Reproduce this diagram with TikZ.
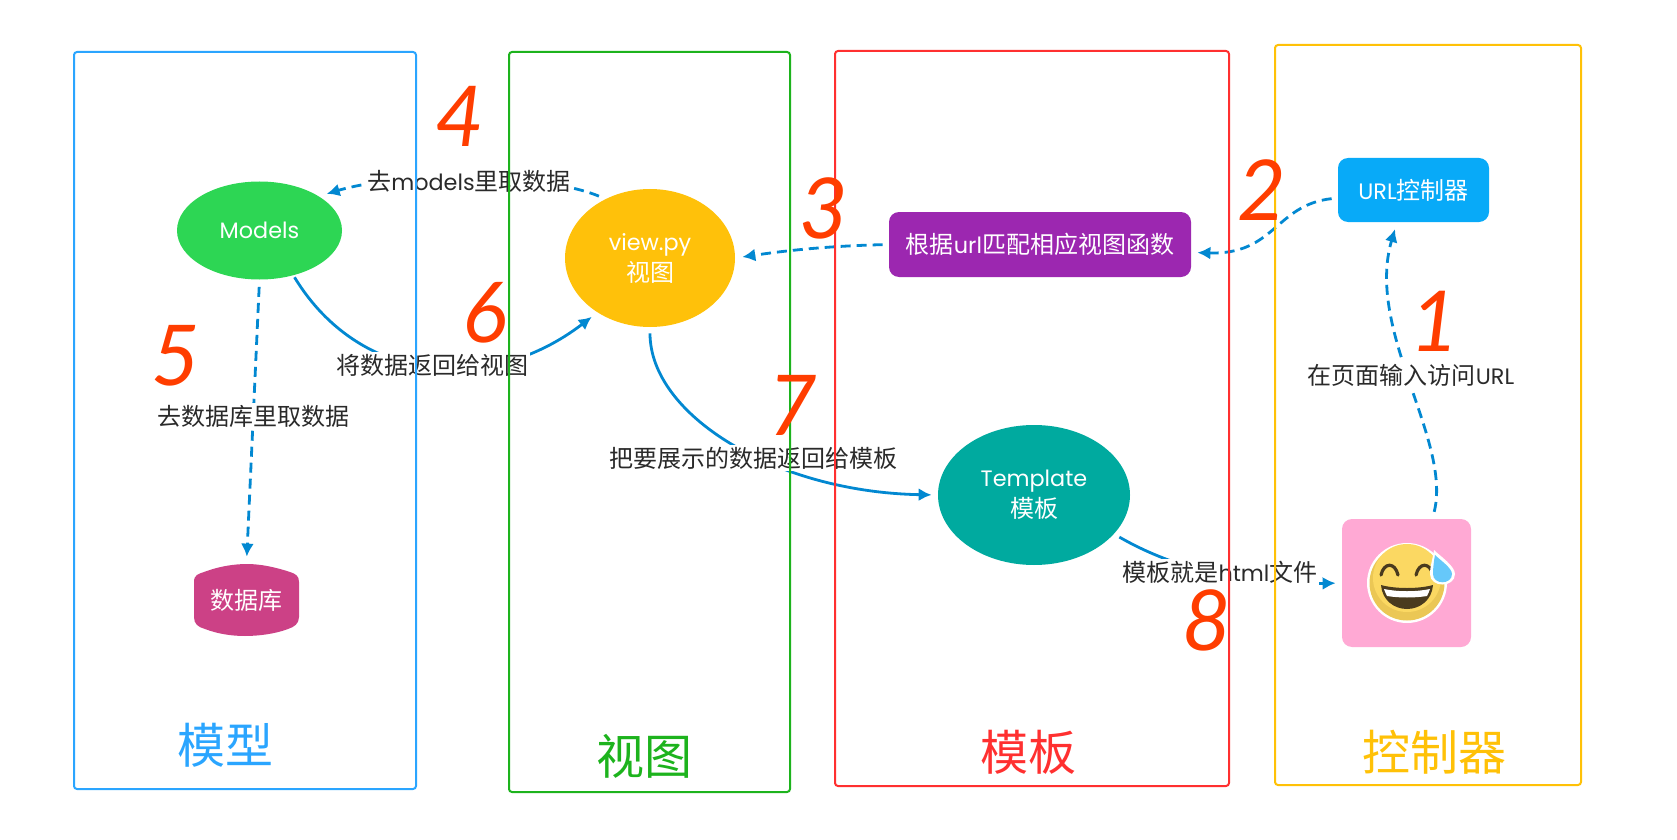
\documentclass[tikz,border=0pt]{standalone}
\usepackage{fontspec}
\setmainfont{Noto Sans CJK SC}
\newfontfamily\latfont[Scale=0.93]{Poppins}
\newfontfamily\handfont{Lato}
\newcommand{\lat}[1]{{\latfont #1}}
\usetikzlibrary{arrows.meta}
\usetikzlibrary{shapes.geometric}

\definecolor{flowblue}{HTML}{0288D1}
\definecolor{labelgray}{HTML}{2A2A2A}
\definecolor{handred}{HTML}{FF3D00}
\definecolor{modelblue}{HTML}{2AA5FF}
\definecolor{viewgreen}{HTML}{1DB31D}
\definecolor{tplred}{HTML}{FF3030}
\definecolor{ctlyellow}{HTML}{FFC107}
\definecolor{modelsfill}{HTML}{2DD654}
\definecolor{viewfill}{HTML}{FFC10A}
\definecolor{tplfill}{HTML}{00AA9F}
\definecolor{matchfill}{HTML}{9C27B0}
\definecolor{urlfill}{HTML}{08AAF8}
\definecolor{dbfill}{HTML}{CC4186}
\definecolor{pinkfill}{HTML}{FFA9D4}
\definecolor{facefill}{HTML}{FBD862}
\definecolor{faceshade}{HTML}{EBC755}
\definecolor{facedark}{HTML}{4A3B1E}
\definecolor{dropfill}{HTML}{66C8FA}

\tikzset{
  every node/.style={font=\fontsize{12}{15.5}\selectfont},
  panel/.style={draw=#1, line width=1pt, rounded corners=1.5pt, inner sep=0pt},
  panellabel/.style={text=#1, font=\fontsize{24}{28}\selectfont, inner sep=0pt},
  oval/.style={ellipse, fill=#1, text=white, align=center, inner sep=0pt},
  box/.style={rectangle, rounded corners=5pt, fill=#1, text=white, align=center, inner sep=0pt},
  flow/.style={draw=flowblue, line width=1.4pt, -{Latex[length=6.5pt,width=6.5pt]}},
  dashflow/.style={flow, dash pattern=on 5pt off 3pt},
  edgelabel/.style={fill=white, text=labelgray, inner sep=1pt},
  hand/.style={text=handred, inner sep=0pt, font=\fontsize{42}{42}\selectfont\handfont\itshape},
}

\begin{document}
\begin{tikzpicture}[x=0.5pt, y=-0.5pt]

\useasboundingbox (0,0) rectangle (1677,840);

\node [oval=modelsfill, minimum width=82.5pt, minimum height=49pt] (models) at (259.5,230.5) {\lat{Models}};
\node [oval=viewfill, minimum width=85pt, minimum height=69pt] (view) at (650,258) {\lat{view.py}\\视图};
\node [oval=tplfill, minimum width=96pt, minimum height=70pt] (template) at (1034,495) {\lat{Template}\\模板};

\node [box=matchfill, minimum width=151pt, minimum height=32.5pt] (match) at (1040,244.5) {根据\lat{url}匹配相应视图函数};
\node [box=urlfill, minimum width=75.5pt, minimum height=32pt] (url) at (1413.5,190) {\lat{URL}控制器};
\node [box=pinkfill, minimum width=64.5pt, minimum height=64pt] (user) at (1406.5,583) {};

\fill[dbfill] (194,582) .. controls (194,575) and (198,574) .. (204,572)
  .. controls (220,566) and (235,564) .. (247,564)
  .. controls (260,564) and (275,567) .. (290,572)
  .. controls (296,574) and (299,576) .. (299,582) -- (299,617)
  .. controls (299,624) and (294,627) .. (288,629)
  .. controls (275,634) and (258,636) .. (245,636)
  .. controls (232,636) and (218,634) .. (205,629)
  .. controls (198,627) and (194,624) .. (194,617) -- cycle;
\node [text=white, inner sep=0pt, minimum width=52.5pt, minimum height=36pt] (db) at (246.5,600) {数据库};

\fill[white] (1407,583) circle (40);
\fill[faceshade] (1407,583) circle (37.5);
\fill[facefill] (1407,578) circle (34);
\draw[facedark, line width=1.6pt, line cap=round] (1381,575) .. controls (1384,562) and (1395,562) .. (1398,575);
\draw[facedark, line width=1.6pt, line cap=round] (1416,575) .. controls (1419,562) and (1430,562) .. (1433,575);
\fill[facedark] (1381,585) .. controls (1395,589) and (1419,589) .. (1433,585)
  .. controls (1432,600) and (1420,609) .. (1407,609) .. controls (1394,609) and (1382,600) .. (1381,585) -- cycle;
\fill[white] (1384,589) .. controls (1398,592) and (1416,592) .. (1430,589)
  .. controls (1429,592) and (1428,594) .. (1427,596) .. controls (1415,598) and (1399,598) .. (1387,596) .. controls (1386,594) and (1385,592) .. (1384,589) -- cycle;
\fill[white] (1434,550) .. controls (1440,556) and (1455,566) .. (1455,574) .. controls (1455,588) and (1430,588) .. (1430,574) .. controls (1430,566) and (1433,558) .. (1434,550) -- cycle;
\fill[dropfill] (1435,555) .. controls (1440,560) and (1452,568) .. (1452,574) .. controls (1452,585) and (1433,585) .. (1433,574) .. controls (1433,568) and (1434,560) .. (1435,555) -- cycle;

\draw[dashflow, shorten <=3.5pt, shorten >=3.5pt] (user.68) .. controls (1452,440) and (1365,330) .. (url.243);
\draw[dashflow, shorten <=3pt, shorten >=3pt] (url.186) .. controls (1275,205) and (1275,255) .. (match.-3);
\draw[dashflow, shorten <=3pt, shorten >=3.5pt] (match.180) .. controls (830,246) and (790,250) .. (view.east);
\draw[dashflow, shorten <=3.5pt, shorten >=4pt] (view.127) .. controls (540,172) and (400,172) .. (models.30);
\draw[dashflow, shorten <=3.5pt, shorten >=3.5pt] (models.south) -- (db.north);
\draw[flow, shorten <=1pt, shorten >=3.5pt] (models.-53) .. controls (360,385) and (490,395) .. (view.-134);
\draw[flow, shorten <=3pt, shorten >=3pt] (view.south) .. controls (650,415) and (775,492) .. (template.west);
\draw[flow, shorten <=3pt, shorten >=3pt] (template.-26) .. controls (1180,572) and (1250,585) .. (user.west);

\node [edgelabel] (lb_1) at (1411,375) {在页面输入访问\lat{URL}};
\node [edgelabel] (lb_4) at (469,181) {去\lat{models}里取数据};
\node [edgelabel] (lb_5) at (253,416) {去数据库里取数据};
\node [edgelabel] (lb_6) at (432,365) {将数据返回给视图};
\node [edgelabel] (lb_7) at (753,458) {把要展示的数据返回给模板};
\node [edgelabel] (lb_8) at (1220,572) {模板就是\lat{html}文件};

\node [panel=modelblue, minimum width=171pt, minimum height=368.5pt] (pn_model) at (245,420.5) {};
\node [panel=viewgreen, minimum width=140.5pt, minimum height=370pt] (pn_view) at (649.5,422) {};
\node [panel=tplred, minimum width=197pt, minimum height=367.5pt] (pn_tpl) at (1032,418.5) {};
\node [panel=ctlyellow, minimum width=153pt, minimum height=370pt] (pn_ctl) at (1428,415) {};

\node [panellabel=modelblue] (tt_model) at (225,745) {模型};
\node [panellabel=viewgreen] (tt_view) at (644,756) {视图};
\node [panellabel=tplred] (tt_tpl) at (1028,752) {模板};
\node [panellabel=ctlyellow] (tt_ctl) at (1434,752) {控制器};

\node [hand] (no_1) at (1435,321) {1};
\node [hand] (no_2) at (1262,190) {2};
\node [hand] (no_3) at (824,208) {3};
\node [hand] (no_4) at (460,116) {4};
\node [hand] (no_5) at (176,356) {5};
\node [hand] (no_6) at (485,313) {6};
\node [hand] (no_7) at (793,405) {7};
\node [hand] (no_8) at (1207,620) {8};

\end{tikzpicture}
\end{document}
